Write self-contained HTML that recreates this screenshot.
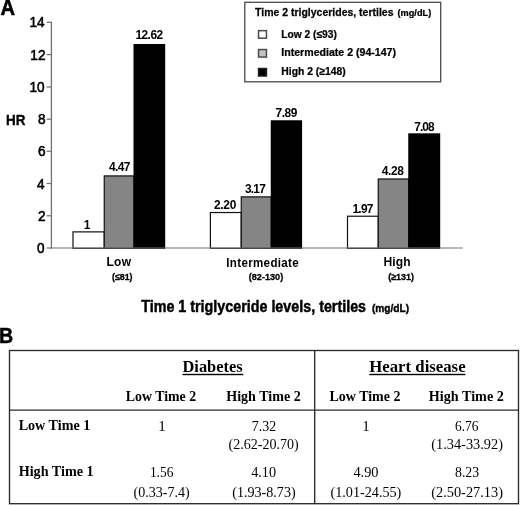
<!DOCTYPE html>
<html lang="en"><head><meta charset="utf-8"><title>Figure</title>
<style>
html,body{margin:0;padding:0;background:#fff;}
svg{display:block}
text{fill:#000;white-space:pre}
.s{font-family:'Liberation Sans', Arial, sans-serif;font-weight:400}
.sb{font-family:'Liberation Sans', Arial, sans-serif;font-weight:700}
.r{font-family:'Liberation Serif', 'Times New Roman', serif;font-weight:400}
.rb{font-family:'Liberation Serif', 'Times New Roman', serif;font-weight:700}
</style></head><body>
<svg width="520" height="506" viewBox="0 0 520 506">
<rect width="520" height="506" fill="#fff"/>
<rect x="73.00" y="231.88" width="31.25" height="16.43" fill="#ffffff" stroke="#111" stroke-width="1.2"/>
<rect x="104.25" y="175.92" width="29.75" height="72.38" fill="#858585" stroke="#111" stroke-width="1.2"/>
<rect x="133.50" y="44.00" width="31.70" height="204.90" fill="#000"/>
<rect x="210.40" y="212.53" width="30.85" height="35.78" fill="#ffffff" stroke="#111" stroke-width="1.2"/>
<rect x="241.25" y="196.88" width="30.00" height="51.42" fill="#858585" stroke="#111" stroke-width="1.2"/>
<rect x="270.75" y="120.27" width="31.35" height="128.63" fill="#000"/>
<rect x="347.50" y="216.23" width="30.75" height="32.07" fill="#ffffff" stroke="#111" stroke-width="1.2"/>
<rect x="378.25" y="178.99" width="30.50" height="69.31" fill="#858585" stroke="#111" stroke-width="1.2"/>
<rect x="408.25" y="133.33" width="31.95" height="115.57" fill="#000"/>
<line x1="51.4" y1="21.8" x2="51.4" y2="248.6" stroke="#707070" stroke-width="1.3"/>
<line x1="50.8" y1="248.0" x2="462.7" y2="248.0" stroke="#707070" stroke-width="1.2"/>
<line x1="46.6" y1="248.0" x2="51.4" y2="248.0" stroke="#707070" stroke-width="1.2"/>
<line x1="46.6" y1="215.75" x2="51.4" y2="215.75" stroke="#707070" stroke-width="1.2"/>
<line x1="46.6" y1="183.5" x2="51.4" y2="183.5" stroke="#707070" stroke-width="1.2"/>
<line x1="46.6" y1="151.25" x2="51.4" y2="151.25" stroke="#707070" stroke-width="1.2"/>
<line x1="46.6" y1="119.2" x2="51.4" y2="119.2" stroke="#707070" stroke-width="1.2"/>
<line x1="46.6" y1="87.0" x2="51.4" y2="87.0" stroke="#707070" stroke-width="1.2"/>
<line x1="46.6" y1="54.6" x2="51.4" y2="54.6" stroke="#707070" stroke-width="1.2"/>
<line x1="46.6" y1="22.3" x2="51.4" y2="22.3" stroke="#707070" stroke-width="1.2"/>
<rect x="244.8" y="2.3" width="195.9" height="79.5" fill="#fff" stroke="#4a4a4a" stroke-width="1.3"/>
<rect x="258.55" y="30.65" width="7.9" height="7.5" fill="#fff" stroke="#4a4a4a" stroke-width="1.5"/>
<rect x="258.55" y="49.55" width="7.9" height="7.5" fill="#c4c4c4" stroke="#4a4a4a" stroke-width="1.5"/>
<rect x="258.55" y="68.5" width="7.9" height="7.5" fill="#000" stroke="#222" stroke-width="1.5"/>
<rect x="9.5" y="350.5" width="509" height="153.2" fill="none" stroke="#2a2a2a" stroke-width="1.35"/>
<line x1="9.5" y1="410.1" x2="518.5" y2="410.1" stroke="#2a2a2a" stroke-width="1.35"/>
<line x1="314.7" y1="350.5" x2="314.7" y2="503.7" stroke="#2a2a2a" stroke-width="1.35"/>
<rect x="182.5" y="373.8" width="60.8" height="1.4" fill="#000"/>
<rect x="369.2" y="373.8" width="96.2" height="1.4" fill="#000"/>
<text class="sb" font-size="22.3" transform="translate(0.50 15.30) scale(0.9000 1)" stroke="#000" stroke-width="0.6">A</text>
<text class="sb" font-size="22.3" transform="translate(-1.08 343.30) scale(0.8800 1)" stroke="#000" stroke-width="0.45">B</text>
<text class="s" font-size="15.5" transform="translate(37.08 253.00) scale(0.8800 1)" stroke="#000" stroke-width="0.6">0</text>
<text class="s" font-size="15.5" transform="translate(37.96 220.75) scale(0.8800 1)" stroke="#000" stroke-width="0.6">2</text>
<text class="s" font-size="15.5" transform="translate(37.08 188.50) scale(0.8800 1)" stroke="#000" stroke-width="0.6">4</text>
<text class="s" font-size="15.5" transform="translate(37.96 156.25) scale(0.8800 1)" stroke="#000" stroke-width="0.6">6</text>
<text class="s" font-size="15.5" transform="translate(37.96 124.20) scale(0.8800 1)" stroke="#000" stroke-width="0.6">8</text>
<text class="s" font-size="15.5" transform="translate(29.49 92.00) scale(0.8800 1)" stroke="#000" stroke-width="0.6">10</text>
<text class="s" font-size="15.5" transform="translate(30.37 59.60) scale(0.8800 1)" stroke="#000" stroke-width="0.6">12</text>
<text class="s" font-size="15.5" transform="translate(29.49 27.30) scale(0.8800 1)" stroke="#000" stroke-width="0.6">14</text>
<text class="sb" font-size="15.5" transform="translate(5.93 125.00) scale(0.8682 1)" stroke="#000" stroke-width="0.35">HR</text>
<text class="sb" font-size="13.5" transform="translate(83.70 229.00) scale(0.9000 1)">1</text>
<text class="sb" font-size="13.5" transform="translate(109.00 170.90) scale(0.8850 1)" letter-spacing="-0.679">4.47</text>
<text class="sb" font-size="13.5" transform="translate(135.40 39.20) scale(0.8850 1)" letter-spacing="-0.607">12.62</text>
<text class="sb" font-size="13.5" transform="translate(213.90 208.80) scale(0.8850 1)" letter-spacing="-0.303">2.20</text>
<text class="sb" font-size="13.5" transform="translate(244.90 193.10) scale(0.8850 1)" letter-spacing="-0.868">3.17</text>
<text class="sb" font-size="13.5" transform="translate(275.40 117.00) scale(0.8850 1)" letter-spacing="-0.453">7.89</text>
<text class="sb" font-size="13.5" transform="translate(352.50 212.70) scale(0.8850 1)" letter-spacing="-0.868">1.97</text>
<text class="sb" font-size="13.5" transform="translate(381.75 175.10) scale(0.8850 1)" letter-spacing="-0.448">4.28</text>
<text class="sb" font-size="13.5" transform="translate(414.25 130.60) scale(0.8850 1)" letter-spacing="-1.107">7.08</text>
<text class="sb" font-size="12.6" transform="translate(106.50 266.20) scale(0.9500 1)" letter-spacing="0.307">Low</text>
<text class="sb" font-size="9.4" transform="translate(112.00 280.00) scale(0.9357 1)" stroke="#000" stroke-width="0.3">(≤81)</text>
<text class="sb" font-size="12.6" transform="translate(226.25 266.50) scale(0.9200 1)" letter-spacing="0.357">Intermediate</text>
<text class="sb" font-size="9.4" transform="translate(248.75 280.00) scale(0.9699 1)" stroke="#000" stroke-width="0.3">(82-130)</text>
<text class="sb" font-size="12.6" transform="translate(383.40 266.20) scale(0.9600 1)" letter-spacing="0.141">High</text>
<text class="sb" font-size="9.4" transform="translate(388.15 280.00) scale(0.9551 1)" stroke="#000" stroke-width="0.3">(≥131)</text>
<text class="sb" font-size="15.6" transform="translate(141.20 311.90) scale(0.9175 1)" stroke="#000" stroke-width="0.45">Time 1 triglyceride levels, tertiles</text>
<text class="sb" font-size="11" transform="translate(371.90 311.70) scale(0.9223 1)" stroke="#000" stroke-width="0.4">(mg/dL)</text>
<text class="sb" font-size="11.2" transform="translate(255.00 15.80) scale(0.9369 1)" stroke="#000" stroke-width="0.25">Time 2 triglycerides, tertiles</text>
<text class="sb" font-size="9" transform="translate(397.50 15.60) scale(1.0230 1)" stroke="#000" stroke-width="0.25">(mg/dL)</text>
<text class="sb" font-size="11.2" transform="translate(281.30 37.50) scale(0.9130 1)" stroke="#000" stroke-width="0.25">Low 2 (≤93)</text>
<text class="sb" font-size="11.2" transform="translate(281.30 56.30) scale(0.9459 1)" stroke="#000" stroke-width="0.25">Intermediate 2 (94-147)</text>
<text class="sb" font-size="11.2" transform="translate(281.30 75.00) scale(0.9266 1)" stroke="#000" stroke-width="0.25">High 2 (≥148)</text>
<text class="rb" font-size="16.5" transform="translate(182.50 372.00) scale(0.9948 1)">Diabetes</text>
<text class="rb" font-size="16.5" transform="translate(369.25 372.00) scale(1.0161 1)">Heart disease</text>
<text class="rb" font-size="14.5" transform="translate(125.75 401.40) scale(0.9579 1)">Low Time 2</text>
<text class="rb" font-size="14.5" transform="translate(226.25 401.40) scale(0.9698 1)">High Time 2</text>
<text class="rb" font-size="14.5" transform="translate(329.50 401.40) scale(0.9647 1)">Low Time 2</text>
<text class="rb" font-size="14.5" transform="translate(428.80 401.40) scale(0.9769 1)">High Time 2</text>
<text class="rb" font-size="14.5" transform="translate(18.65 430.20) scale(0.9749 1)">Low Time 1</text>
<text class="rb" font-size="14.5" transform="translate(18.65 476.20) scale(0.9763 1)">High Time 1</text>
<text class="r" font-size="15" transform="translate(158.20 430.50) scale(1.0000 1)">1</text>
<text class="r" font-size="15" transform="translate(251.80 430.50) scale(0.9320 1)">7.32</text>
<text class="r" font-size="15" transform="translate(228.60 449.00) scale(0.9368 1)">(2.62-20.70)</text>
<text class="r" font-size="15" transform="translate(362.35 430.50) scale(1.0000 1)">1</text>
<text class="r" font-size="15" transform="translate(455.00 430.50) scale(0.8935 1)">6.76</text>
<text class="r" font-size="15" transform="translate(431.15 449.00) scale(0.9595 1)">(1.34-33.92)</text>
<text class="r" font-size="15" transform="translate(149.90 476.90) scale(0.8951 1)">1.56</text>
<text class="r" font-size="15" transform="translate(133.50 496.50) scale(0.9385 1)">(0.33-7.4)</text>
<text class="r" font-size="15" transform="translate(251.25 476.90) scale(0.9456 1)">4.10</text>
<text class="r" font-size="15" transform="translate(232.20 496.50) scale(0.9409 1)">(1.93-8.73)</text>
<text class="r" font-size="15" transform="translate(353.40 476.90) scale(0.9592 1)">4.90</text>
<text class="r" font-size="15" transform="translate(330.50 496.50) scale(0.9455 1)">(1.01-24.55)</text>
<text class="r" font-size="15" transform="translate(455.00 476.90) scale(0.9223 1)">8.23</text>
<text class="r" font-size="15" transform="translate(431.15 496.50) scale(0.9595 1)">(2.50-27.13)</text>
</svg>
</body></html>
